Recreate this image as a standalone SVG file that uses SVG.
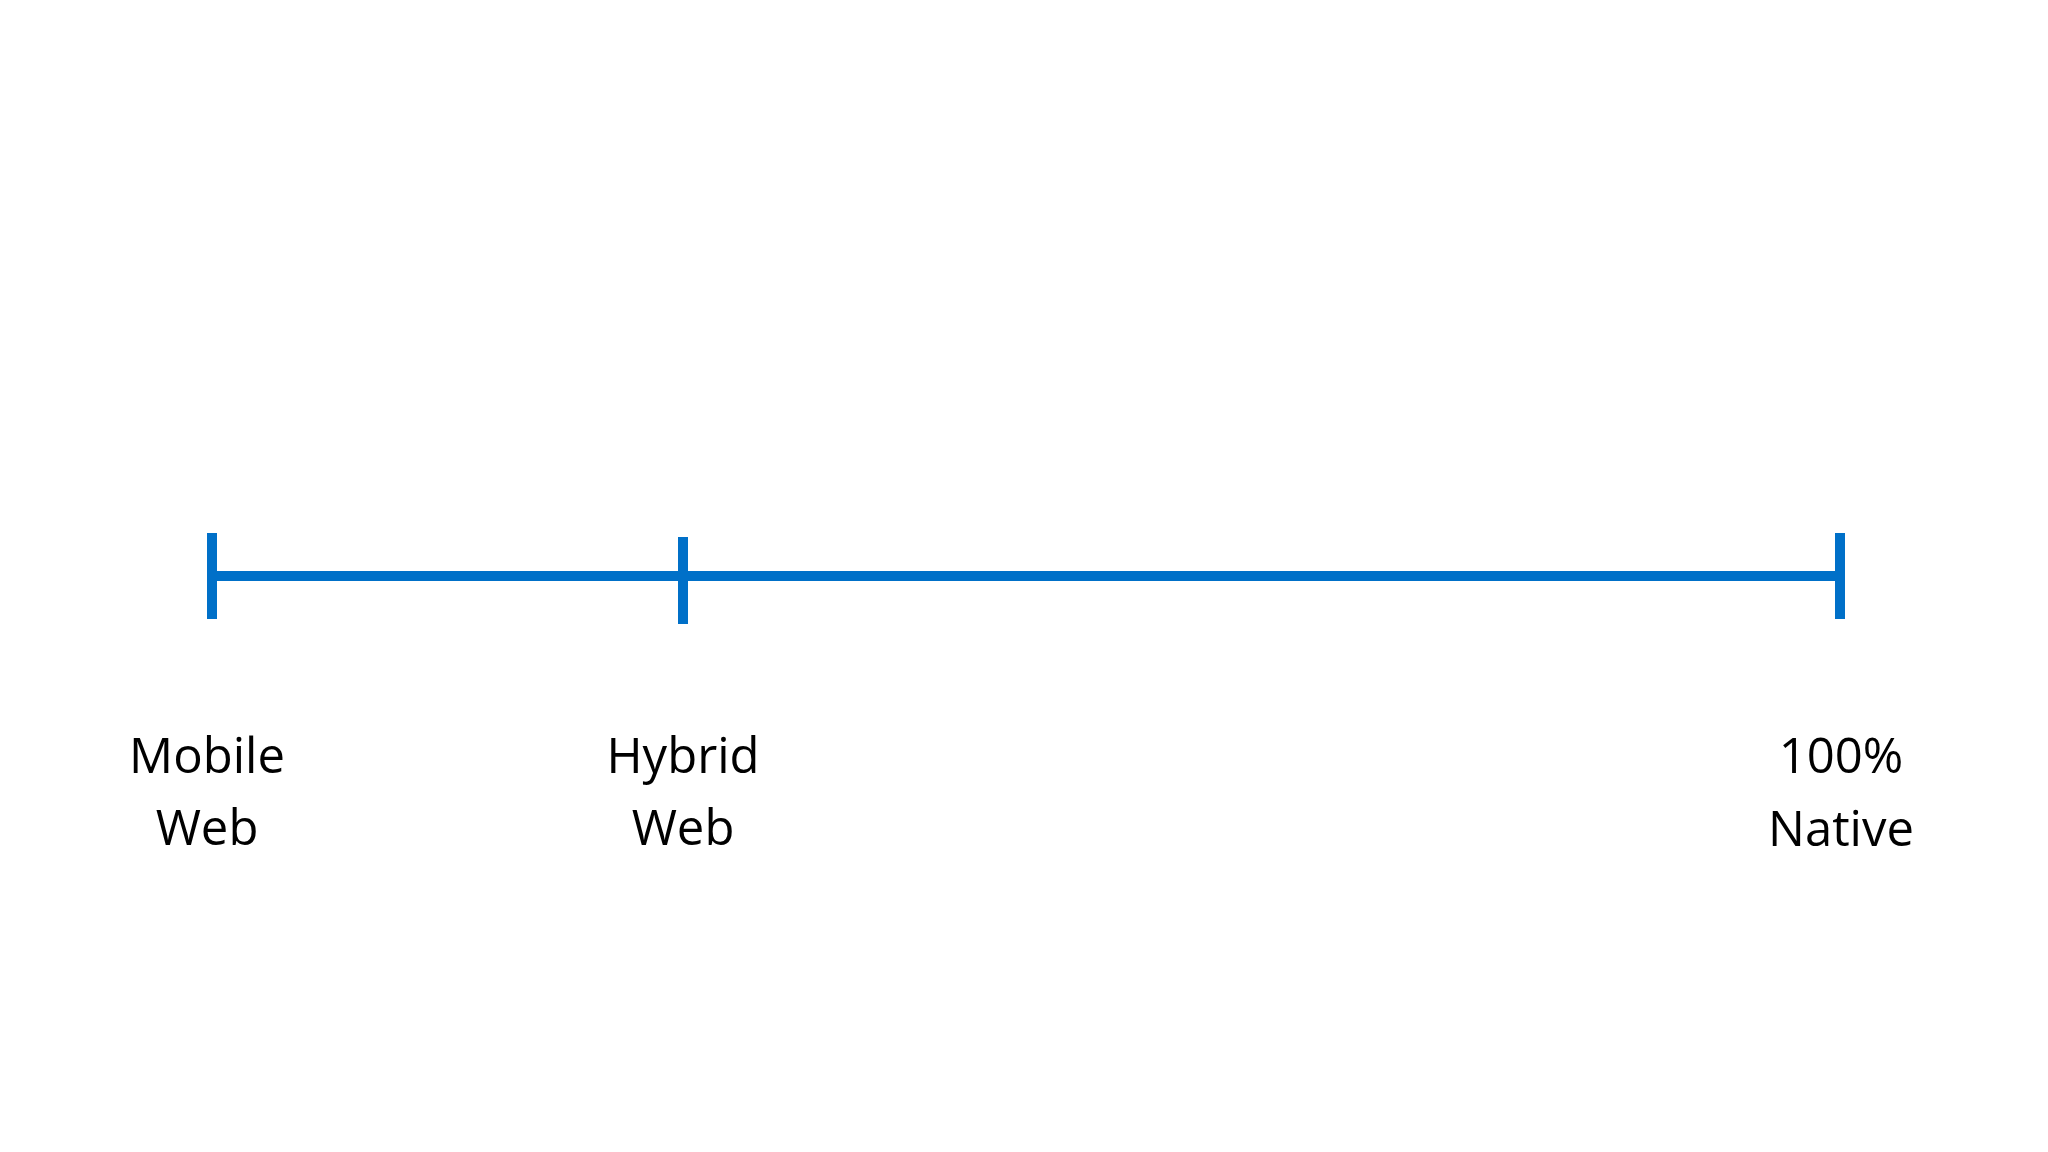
<svg xmlns="http://www.w3.org/2000/svg" width="2048" height="1152" viewBox="0 0 2048 1152">
<style>
.ax{stroke:#0070C8;stroke-width:10;fill:none;stroke-linecap:butt}
.lb{font-family:"Open Sans","Noto Sans","Liberation Sans",sans-serif;font-size:49px;fill:#000;text-anchor:middle}
</style>
<rect width="2048" height="1152" fill="#fff"/>
<g id="connectors">
<line class="ax" x1="212" y1="576" x2="1840" y2="576"/>
</g>
<g id="mobile-web">
<line class="ax" x1="212" y1="533" x2="212" y2="619"/>
<text class="lb" x="207" y="773">Mobile</text>
<text class="lb" x="207" y="845">Web</text>
</g>
<g id="hybrid-web">
<line class="ax" x1="683" y1="537" x2="683" y2="624"/>
<text class="lb" x="683" y="773">Hybrid</text>
<text class="lb" x="683" y="845">Web</text>
</g>
<g id="native">
<line class="ax" x1="1840" y1="533" x2="1840" y2="619"/>
<text class="lb" x="1841" y="773">100%</text>
<text class="lb" x="1841" y="846">Native</text>
</g>
</svg>
